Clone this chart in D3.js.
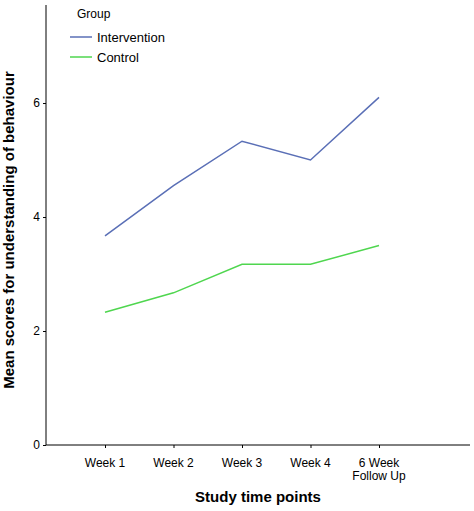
<!DOCTYPE html>
<html><head><meta charset="utf-8">
<script src="https://cdn.jsdelivr.net/npm/d3@7"></script>
<style>body{margin:0;background:#fff}text{font-family:Arial,"Liberation Sans",sans-serif}</style>
</head><body><svg id="c" width="474" height="511"></svg>
<script>
const timePoints = ["Week 1", "Week 2", "Week 3", "Week 4", "6 Week|Follow Up"];
const intervention = [3.67, 4.55, 5.33, 5.0, 6.1];
const control = [2.33, 2.67, 3.17, 3.17, 3.5];
const yTicks = [0, 2, 4, 6];

const svg = d3.select("#c");
const mLeft = 46, mRight = 470, mTop = 5, mBottom = 445;

const x = d3.scalePoint().domain(timePoints).range([105, 379]);
const y = d3.scaleLinear().domain([0, 7.72]).range([mBottom, mTop]);

// axes
const yAxis = svg.append("g").attr("transform", `translate(${mLeft},0)`)
  .call(d3.axisLeft(y).tickValues(yTicks).tickSize(3).tickFormat(d3.format("d")));
const xAxis = svg.append("g").attr("transform", `translate(0,${mBottom})`)
  .call(d3.axisBottom(x).tickSize(3).tickFormat(""));
[yAxis, xAxis].forEach(a => {
  a.selectAll("path,line").attr("stroke", "#000");
  a.selectAll("text").attr("font-size", 12).attr("fill", "#000");
});
yAxis.select(".domain").attr("d", `M0,${mTop}V${mBottom}`);
xAxis.select(".domain").attr("d", `M${mLeft},0H${mRight}`);

// x labels (two-line for the last one)
timePoints.forEach(t => {
  t.split("|").forEach((p, i) => {
    svg.append("text").attr("x", x(t)).attr("y", mBottom + 22 + i * 13)
      .attr("text-anchor", "middle").attr("font-size", 12).text(p);
  });
});

// lines
const line = d3.line().x((d, i) => x(timePoints[i])).y(d => y(d));
svg.append("path").datum(intervention).attr("d", line)
  .attr("fill", "none").attr("stroke", "#5a6fb6").attr("stroke-width", 1.5);
svg.append("path").datum(control).attr("d", line)
  .attr("fill", "none").attr("stroke", "#4fd64f").attr("stroke-width", 1.5);

// titles
svg.append("text").attr("x", 258).attr("y", 502).attr("text-anchor", "middle")
  .attr("font-size", 15).attr("font-weight", "bold").text("Study time points");
svg.append("text").attr("transform", `translate(14,${(mTop + mBottom) / 2 + 5}) rotate(-90)`)
  .attr("text-anchor", "middle").attr("font-size", 15).attr("font-weight", "bold")
  .text("Mean scores for understanding of behaviour");

// legend
svg.append("text").attr("x", 77).attr("y", 18).attr("font-size", 12).text("Group");
[["Intervention", "#5a6fb6"], ["Control", "#4fd64f"]].forEach(([name, col], i) => {
  const yy = 37 + i * 20;
  svg.append("line").attr("x1", 70).attr("x2", 92).attr("y1", yy).attr("y2", yy)
    .attr("stroke", col).attr("stroke-width", 1.5);
  svg.append("text").attr("x", 97).attr("y", yy + 5).attr("font-size", 13).text(name);
});
</script></body></html>
